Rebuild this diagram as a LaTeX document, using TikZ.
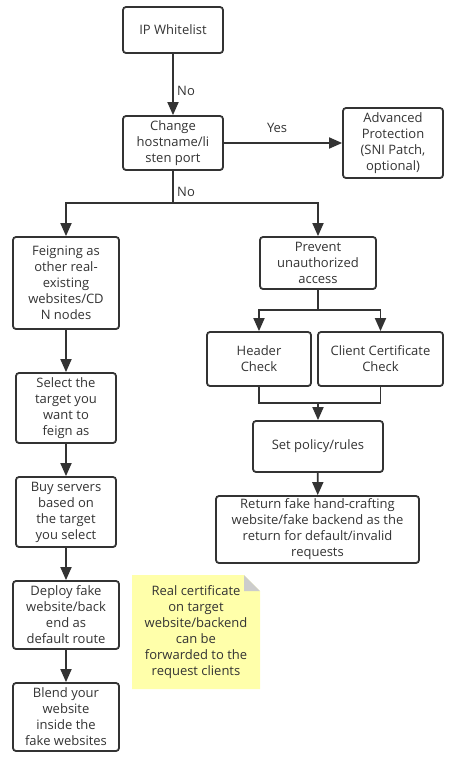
\documentclass[tikz,border=0pt]{standalone}
\usepackage{fontspec}
\setmainfont{Open Sans}
\usetikzlibrary{arrows.meta}
\definecolor{ink}{HTML}{333333}
\definecolor{notefill}{HTML}{FFFFAA}
\definecolor{foldgray}{HTML}{CCCCCC}

\begin{document}
\begin{tikzpicture}[x=1pt, y=-1pt, >={Triangle[length=13pt, width=11pt]},
    line width=1.8pt, color=ink, font=\fontsize{13}{16}\selectfont,
    box/.style={draw, rounded corners=3pt, align=center, inner sep=0pt},
    flow/.style={->}]
  \useasboundingbox (0,0) rectangle (457,761);

  % top of the chart
  \node[box, minimum width=100, minimum height=46] (ipw) at (173,30) {IP Whitelist};
  \node[box, minimum width=100, minimum height=54] (chg) at (173,143) {Change\\hostname/li\\sten port};
  \node[box, minimum width=100, minimum height=70] (adv) at (393,143) {Advanced\\Protection\\(SNI Patch,\\optional)};

  \draw[flow] (ipw) -- node[right, pos=0.6] {No} (chg);
  \draw[flow] (chg) -- node[above=6pt, pos=0.45] {Yes} (adv);

  % split into the two branches
  \coordinate (split) at (173,203);
  \draw (chg) -- node[right, pos=0.65] {No} (split);

  % left branch
  \node[box, minimum width=106, minimum height=92] (feign) at (66,283) {Feigning as\\other real-\\existing\\websites/CD\\N nodes};
  \node[box, minimum width=100, minimum height=70] (sel) at (66,408) {Select the\\target you\\want to\\feign as};
  \node[box, minimum width=100, minimum height=70] (buy) at (66,512) {Buy servers\\based on\\the target\\you select};
  \node[box, minimum width=106, minimum height=68] (dep) at (66,615) {Deploy fake\\website/back\\end as\\default route};
  \node[box, minimum width=106, minimum height=68] (bld) at (66,717) {Blend your\\website\\inside the\\fake websites};

  \draw[flow] (split) -| (feign);
  \draw[flow] (feign) -- (sel);
  \draw[flow] (sel) -- (buy);
  \draw[flow] (buy) -- (dep);
  \draw[flow] (dep) -- (bld);

  % right branch
  \node[box, minimum width=116, minimum height=52] (prev) at (318,263) {Prevent\\unauthorized\\access};
  \node[box, minimum width=104, minimum height=54] (hdr) at (259,359) {Header\\Check};
  \node[box, minimum width=125, minimum height=54] (ccc) at (380.5,359) {Client Certificate\\Check};
  \node[box, minimum width=130, minimum height=51] (pol) at (318,446.5) {Set policy/rules};
  \node[box, minimum width=203, minimum height=67] (ret) at (317.5,529.5) {Return fake hand-crafting\\website/fake backend as the\\return for default/invalid\\requests};

  \draw[flow] (split) -| (prev);
  \coordinate (split2) at (318,310);
  \draw (prev) -- (split2);
  \draw[flow] (split2) -| (hdr);
  \draw[flow] (split2) -| (ccc);
  \coordinate (join) at (318,403);
  \draw (hdr) |- (join);
  \draw (ccc) |- (join);
  \draw[flow] (join) -- (pol);
  \draw[flow] (pol) -- (ret);

  % sticky note
  \fill[notefill] (132,575) -- (244,575) -- (260,591) -- (260,689) -- (132,689) -- cycle;
  \fill[foldgray] (244,575) -- (244,591) -- (260,591) -- cycle;
  \node[align=center] (note) at (196,632) {Real certificate\\on target\\website/backend\\can be\\forwarded to the\\request clients};

\end{tikzpicture}
\end{document}
